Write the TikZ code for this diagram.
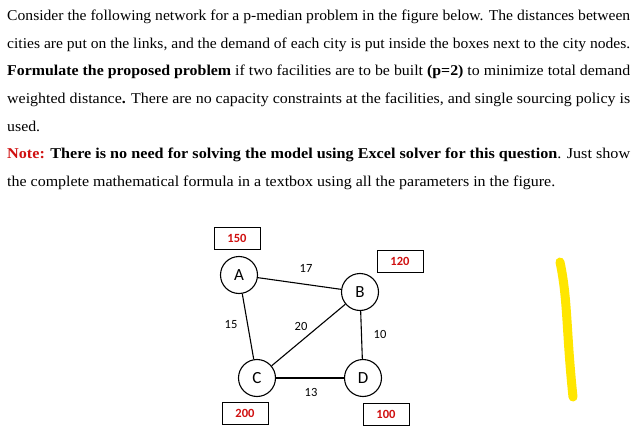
\documentclass[tikz,border=0pt]{standalone}
\usepackage{fontspec}
\usepackage{graphicx}
\setmainfont{Liberation Serif}
\newfontfamily\carfont{Carlito}
\definecolor{nred}{HTML}{D01010}
\definecolor{hl}{HTML}{FFE600}
\newcommand{\fitline}[2]{\resizebox{#1}{\height}{#2}}
\begin{document}
\begin{tikzpicture}[x=1pt,y=-1pt,
  city/.style={circle,draw,line width=1.1pt,minimum size=37pt,inner sep=0pt,font=\carfont\fontsize{17}{17}\selectfont},
  dem/.style={draw,line width=0.5pt,minimum width=46pt,minimum height=22pt,inner sep=0pt,text=nred,font=\carfont\bfseries\fontsize{12.5}{12}\selectfont},
  lbl/.style={font=\carfont\fontsize{12.5}{12}\selectfont},
  edge/.style={line width=1.1pt},
  ln/.style={anchor=base west,inner sep=0pt,font=\fontsize{15}{16}\selectfont}]
\useasboundingbox (0,0) rectangle (638,444);
\fill[white] (0,0) rectangle (638,444);
\node[ln] (l1) at (7,21) {\fitline{623pt}{Consider the following network for a p-median problem in the figure below. The distances between}};
\node[ln] (l2) at (7,48.5) {\fitline{623pt}{cities are put on the links, and the demand of each city is put inside the boxes next to the city nodes.}};
\node[ln] (l3) at (7,76) {\fitline{623pt}{\textbf{Formulate the proposed problem} if two facilities are to be built \textbf{(p=2)} to minimize total demand}};
\node[ln] (l4) at (7,103.5) {\fitline{623pt}{weighted distance\textbf{.} There are no capacity constraints at the facilities, and single sourcing policy is}};
\node[ln] (l5) at (7,131) {\fitline{33pt}{used.}};
\node[ln] (l6) at (7,158.5) {\fitline{623pt}{\textcolor{nred}{\textbf{Note:}} \textbf{There is no need for solving the model using Excel solver for this question}. Just show}};
\node[ln] (l7) at (7,186) {\fitline{548pt}{the complete mathematical formula in a textbox using all the parameters in the figure.}};
\node[city] (A) at (239,275) {A};
\node[city] (B) at (360,292) {B};
\node[city] (C) at (257,378) {C};
\node[city] (D) at (363,378) {D};
\draw[edge] (A) -- (B);
\draw[edge] (A) -- (C);
\draw[edge] (C) -- (B);
\draw[edge] (B) -- (D);
\draw[edge] (C) -- (D);
\node[dem] (dA) at (237,238.5) {150};
\node[dem] (dB) at (400,261) {120};
\node[dem] (dC) at (245,413.5) {200};
\node[dem] (dD) at (386,414.5) {100};
\node[lbl] (eAB) at (306,268) {17};
\node[lbl] (eAC) at (231,325) {15};
\node[lbl] (eBC) at (301,326) {20};
\node[lbl] (eBD) at (380,334) {10};
\node[lbl] (eCD) at (311,392) {13};
\draw[hl,line width=9pt,line cap=round] (560,262) .. controls (568,300) and (566,330) .. (573,397);
\end{tikzpicture}
\end{document}
